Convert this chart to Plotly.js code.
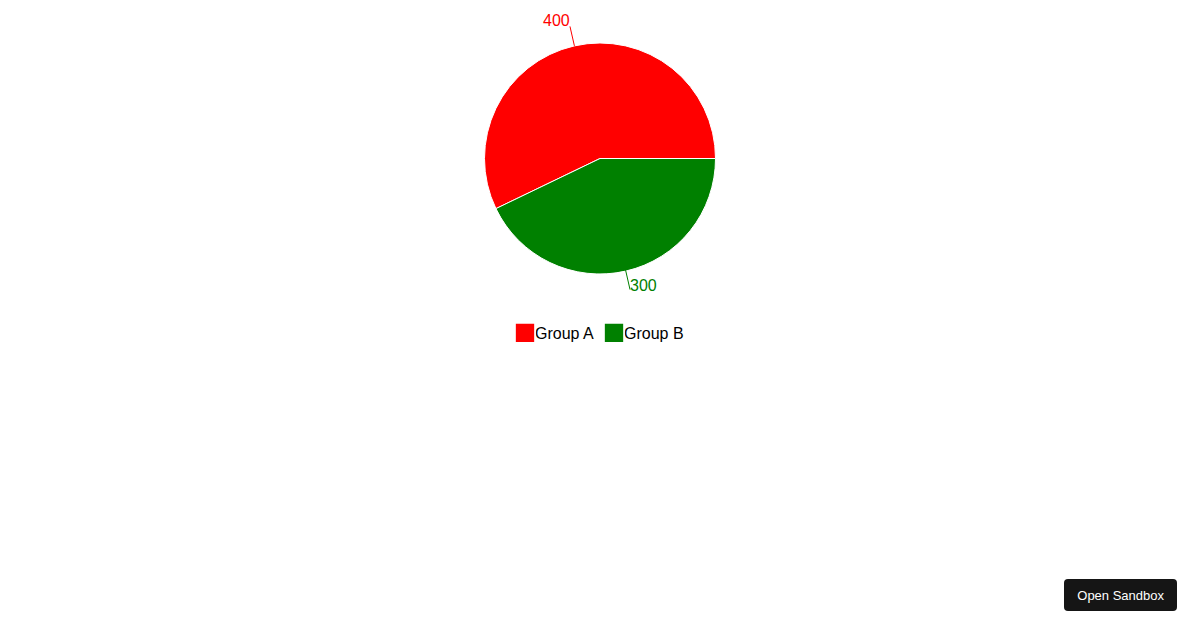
<!DOCTYPE html>
<html>
<head>
<meta charset="utf-8">
<script src="https://cdn.plot.ly/plotly-3.0.1.min.js"></script>
<style>
  html, body { margin: 0; padding: 0; background: #fff; }
  #chart { width: 1200px; height: 630px; }
  /* bigger square swatches, sitting right against the legend text */
  #chart .legendpoints path.legendpie { transform: translate(30px, 0px) scale(1.667); }
  #chart .legend .scrollbox { clip-path: none !important; }
  .sandbox-btn {
    position: absolute; right: 23px; bottom: 19px;
    background: #151515; color: #fff; border-radius: 4px;
    font: 13px "Liberation Sans", Arial, sans-serif;
    padding: 9px 13px 8px 13px;
  }
</style>
</head>
<body>
<div id="chart"></div>
<div class="sandbox-btn">Open Sandbox</div>
<script>
const groupNames = ['Group A', 'Group B']
const groupValues = [400, 300]
const groupColors = ['#ff0000', '#008000']

const W = 1200
const H = 630
const cx = 600
const cy = 158
const R = 115
const labelOffset = 20
const total = groupValues.reduce((a, b) => a + b, 0)

// first slice starts at 3 o'clock and runs counterclockwise
const rotation = 90 - 360 * groupValues[0] / total

const px = (x) => x / W
const py = (y) => 1 - y / H

const annotations = []
const shapes = []
let start = 0
groupValues.forEach((v, i) => {
  const span = 360 * v / total
  const mid = (start + span / 2) * Math.PI / 180
  start += span
  const c = Math.cos(mid)
  const s = Math.sin(mid)
  const x0 = cx + R * c, y0 = cy - R * s
  const x1 = cx + (R + labelOffset) * c, y1 = cy - (R + labelOffset) * s
  shapes.push({
    type: 'line', xref: 'paper', yref: 'paper',
    x0: px(x0), y0: py(y0), x1: px(x1), y1: py(y1),
    line: { color: groupColors[i], width: 1 },
  })
  annotations.push({
    xref: 'paper', yref: 'paper',
    x: px(x1), y: py(y1),
    xanchor: c < 0 ? 'right' : 'left',
    yanchor: 'middle',
    yshift: s < 0 ? 4 : 6,
    xshift: c < 0 ? 2 : -2,
    showarrow: false,
    text: String(v),
    font: { family: 'Liberation Sans, Arial, sans-serif', size: 16, color: groupColors[i] },
  })
})

const data = [{
  type: 'pie',
  labels: groupNames,
  values: groupValues,
  sort: false,
  direction: 'counterclockwise',
  rotation: rotation,
  marker: { colors: groupColors, line: { color: '#ffffff', width: 1 } },
  textinfo: 'none',
  hoverinfo: 'label+value',
  domain: { x: [0, 1], y: [1 - (cy + R + 1) / H, 1 - (cy - R) / H] },
}]

const layout = {
  width: W,
  height: H,
  margin: { t: 0, r: 0, b: 0, l: 0 },
  paper_bgcolor: '#ffffff',
  showlegend: true,
  legend: {
    orientation: 'h',
    x: 0.5 - 16 / W, xanchor: 'center',
    y: 1 - 333 / H, yanchor: 'middle',
    font: { family: 'Liberation Sans, Arial, sans-serif', size: 16, color: '#000000' },
    itemwidth: 30,
    entrywidth: 44,
    traceorder: 'normal',
  },
  shapes: shapes,
  annotations: annotations,
  font: { family: 'Liberation Sans, Arial, sans-serif' },
}

Plotly.newPlot('chart', data, layout, { displayModeBar: false, staticPlot: true })
</script>
</body>
</html>
